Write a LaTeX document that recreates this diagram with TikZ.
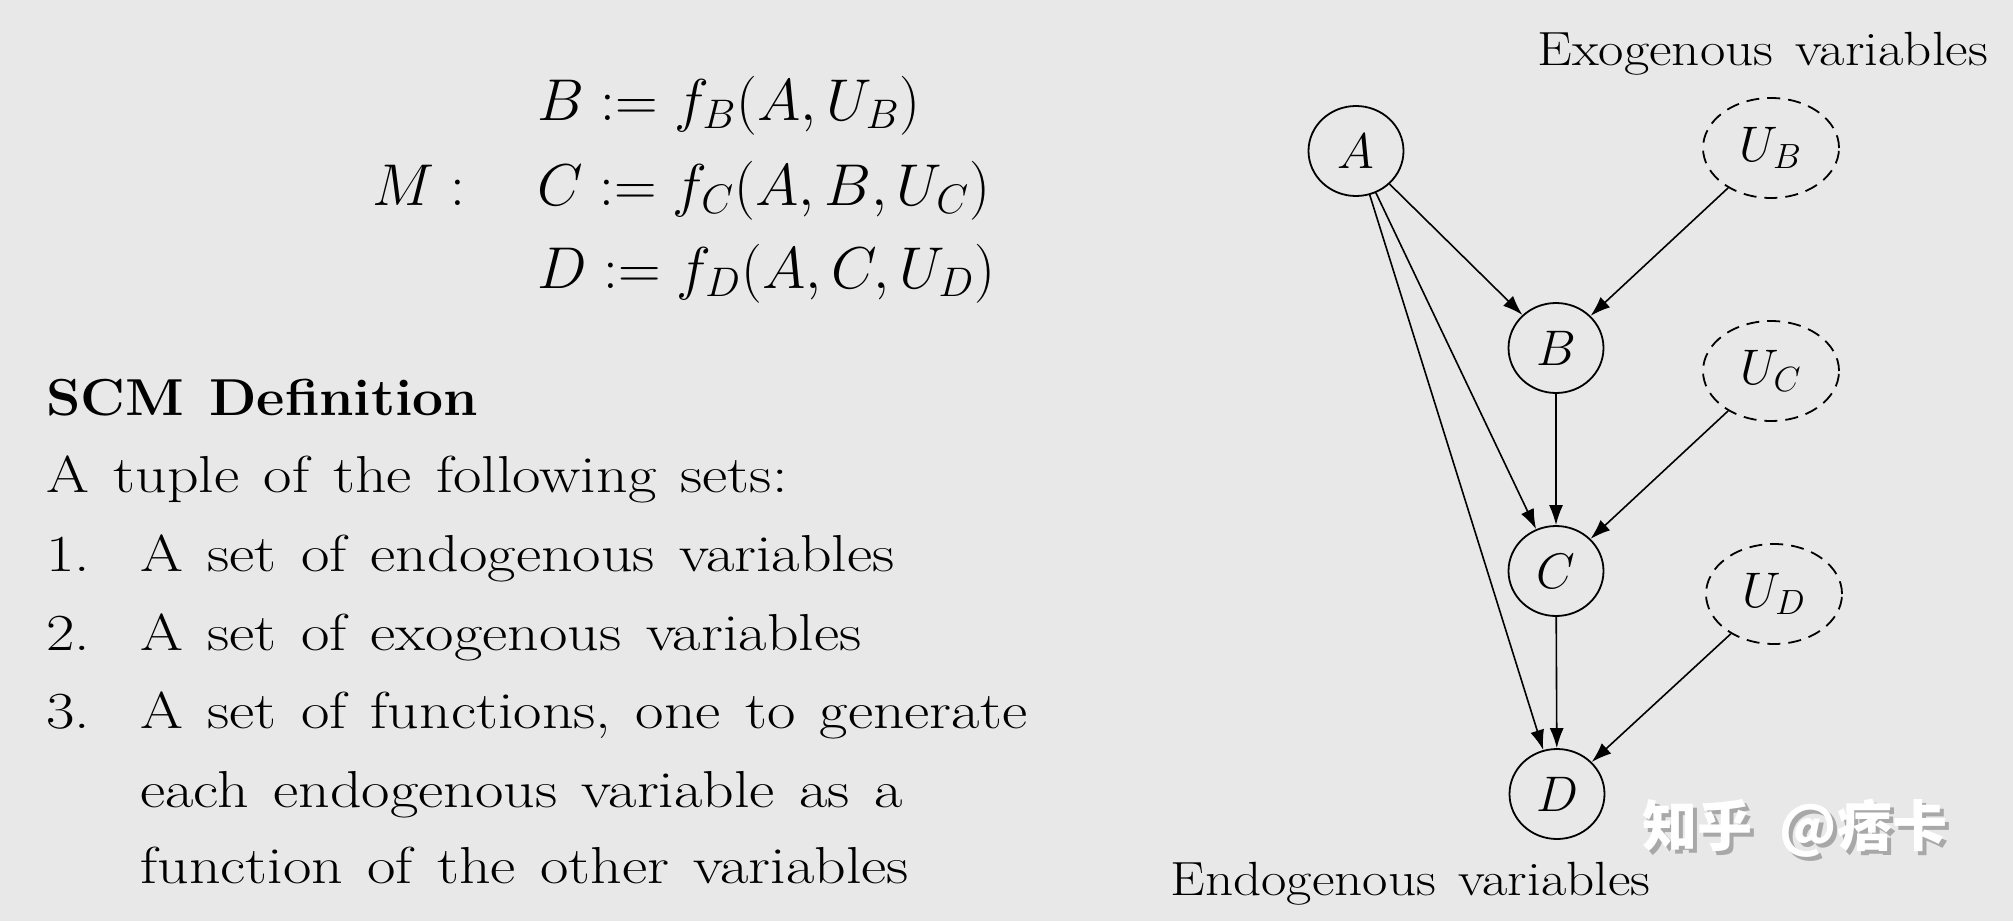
\RequirePackage{fix-cm}
\documentclass[tikz,border=0pt]{standalone}
\usepackage{fontspec}
\newfontfamily\cjk{Noto Sans CJK SC}
\newfontfamily\bodyfont{Latin Modern Roman}[FakeStretch=1.19,WordSpace=1.3]
\newfontfamily\lblfont{Latin Modern Roman}[FakeStretch=1.15,WordSpace=1.35]
\newfontfamily\titlefont{Latin Modern Roman}[FakeStretch=1.06,WordSpace=1.2]
\usetikzlibrary{shapes.geometric,arrows.meta}
\definecolor{bgc}{HTML}{E8E8E8}
\definecolor{shadowc}{HTML}{A8A8A8}
\begin{document}
\begin{tikzpicture}[x=0.5pt,y=-0.5pt,
  endo/.style={ellipse,draw,line width=0.9pt,minimum width=47.5pt,minimum height=45pt,inner sep=0pt,font=\fontsize{25}{30}\selectfont},
  exo/.style={ellipse,draw,line width=0.9pt,dash pattern=on 6.5pt off 4pt,minimum width=68pt,minimum height=50pt,inner sep=0pt,font=\fontsize{25}{30}\selectfont},
  edge/.style={-{Latex[length=10pt,width=7pt]},line width=0.8pt},
  bodytext/.style={anchor=base west,inner sep=0pt,font=\bodyfont\fontsize{26}{30}\selectfont},
  eqtext/.style={anchor=base west,inner sep=0pt,font=\fontsize{29.5}{34}\selectfont},
  lbl/.style={anchor=base west,inner sep=0pt,font=\lblfont\fontsize{24}{28}\selectfont}]
\fill[bgc] (0,0) rectangle (2013,921);
\useasboundingbox (0,0) rectangle (2013,921);

% equations
\node[eqtext] (eqM) at (372,205) {$M:$};
\node[eqtext] (eqB) at (537,120) {$B := f_B(A,U_B)$};
\node[eqtext] (eqC) at (537,205) {$C := f_C(A,B,U_C)$};
\node[eqtext] (eqD) at (537,288) {$D := f_D(A,C,U_D)$};

% definition text
\node[bodytext,font=\titlefont\fontsize{26}{30}\selectfont\bfseries] (t0) at (46,415) {SCM Definition};
\node[bodytext] (t1) at (46,492) {A tuple of the following sets:};
\node[bodytext] (n1) at (46,571) {1.};
\node[bodytext] (t2) at (140,571) {A set of endogenous variables};
\node[bodytext] (n2) at (46,650) {2.};
\node[bodytext] (t3) at (140,650) {A set of exogenous variables};
\node[bodytext] (n3) at (46,728) {3.};
\node[bodytext] (t4) at (140,728) {A set of functions, one to generate};
\node[bodytext] (t5) at (140,807) {each endogenous variable as a};
\node[bodytext] (t6) at (140,883) {function of the other variables};

% graph
\node[endo] (A) at (1356,151) {$A$};
\node[endo] (B) at (1556,348) {$B$};
\node[endo] (C) at (1556,571) {$C$};
\node[endo] (D) at (1557,794) {$D$};
\node[exo] (UB) at (1771,148) {$U_B$};
\node[exo] (UC) at (1771,371) {$U_C$};
\node[exo] (UD) at (1774,594) {$U_D$};

\draw[edge] (A) -- (B);
\draw[edge] (A) -- (C);
\draw[edge] (A) -- (D);
\draw[edge] (B) -- (C);
\draw[edge] (C) -- (D);
\draw[edge] (UB) -- (B);
\draw[edge] (UC) -- (C);
\draw[edge] (UD) -- (D);

\node[lbl] (exolbl) at (1537,65) {Exogenous variables};
\node[lbl] (endolbl) at (1170,895) {Endogenous variables};

% watermark
\node[anchor=base west,inner sep=0pt,text=shadowc,font=\fontsize{27.5}{30}\cjk\bfseries] (wms) at (1646,850) {知乎\hspace{0.5em}@痞卡};
\node[anchor=base west,inner sep=0pt,text=white,font=\fontsize{27.5}{30}\cjk\bfseries] (wm) at (1642,846) {知乎\hspace{0.5em}@痞卡};
\end{tikzpicture}
\end{document}
